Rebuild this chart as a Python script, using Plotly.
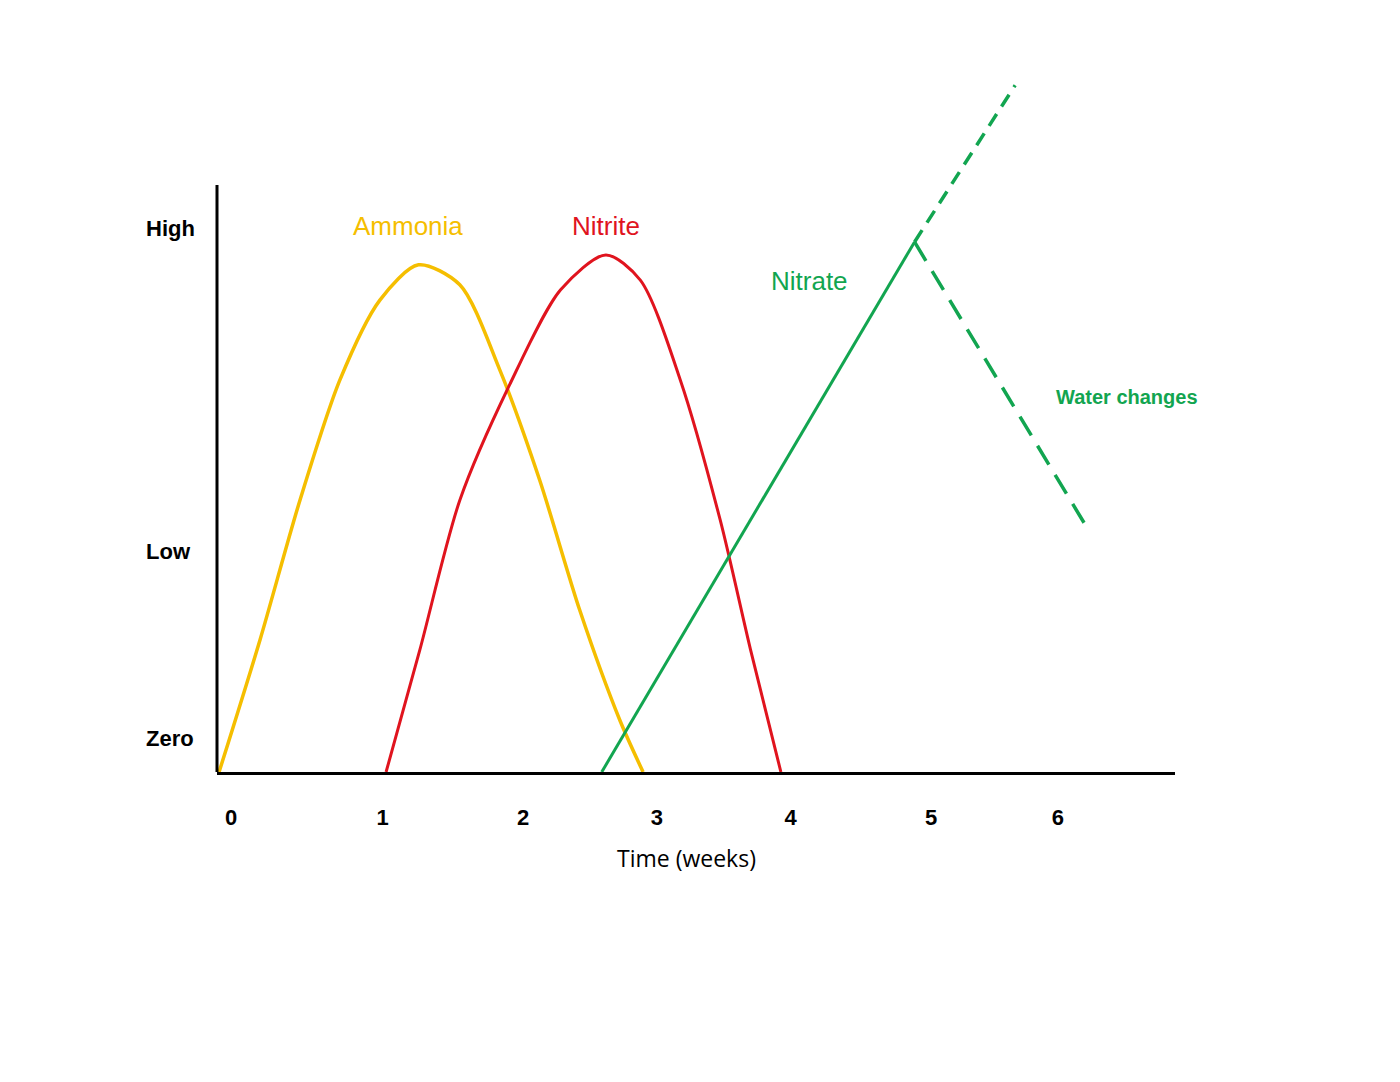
import plotly.graph_objects as go

# curves (x in weeks, y as fraction of "High")
ammonia_x = [-0.087, 0.21, 0.50, 0.79, 1.08, 1.36, 1.66, 1.95, 2.24, 2.53, 2.82, 2.99]
ammonia_y = [0, 0.225, 0.463, 0.668, 0.804, 0.864, 0.830, 0.685, 0.497, 0.276, 0.089, 0]
nitrite_x = [1.125, 1.37, 1.66, 2.02, 2.39, 2.72, 2.97, 3.26, 3.55, 3.77, 3.99]
nitrite_y = [0, 0.208, 0.463, 0.659, 0.821, 0.881, 0.838, 0.668, 0.429, 0.208, 0]
nitrate_x = [2.69, 4.96]
nitrate_y = [0, 0.903]
rise_x = [4.96, 5.69]
rise_y = [0.903, 1.170]
change_x = [4.96, 6.23]
change_y = [0.903, 0.409]

tick_pos = [0, 1.10, 2.12, 3.09, 4.06, 5.08, 6.0]
tick_text = ["0", "1", "2", "3", "4", "5", "6"]
level_names = ["High", "Low", "Zero"]
level_pos = [0.951, 0.351, 0.032]

ymax = 1.213
yellow, red, green = "#F5BE00", "#E0141E", "#12A550"

fig = go.Figure()
fig.add_trace(go.Scatter(x=ammonia_x, y=ammonia_y, mode="lines",
                         line=dict(color=yellow, width=3.5, shape="spline", smoothing=0.8)))
fig.add_trace(go.Scatter(x=nitrite_x, y=nitrite_y, mode="lines",
                         line=dict(color=red, width=3, shape="spline", smoothing=0.8)))
fig.add_trace(go.Scatter(x=nitrate_x, y=nitrate_y, mode="lines",
                         line=dict(color=green, width=3)))
fig.add_trace(go.Scatter(x=rise_x, y=rise_y, mode="lines",
                         line=dict(color=green, width=3.5, dash="14px,9px")))
fig.add_trace(go.Scatter(x=change_x, y=change_y, mode="lines",
                         line=dict(color=green, width=3.5, dash="22px,12px")))

bold = dict(family="Liberation Sans", size=22, color="black", weight="bold")
annos = [
    dict(x=1.285, y=0.930, text="Ammonia", font=dict(family="Liberation Sans", size=26, color=yellow)),
    dict(x=2.72, y=0.930, text="Nitrite", font=dict(family="Liberation Sans", size=26, color=red)),
    dict(x=4.20, y=0.836, text="Nitrate", font=dict(family="Liberation Sans", size=26, color=green)),
    dict(x=6.50, y=0.639, text="Water changes",
         font=dict(family="Liberation Sans", size=20, color=green, weight="bold")),
]
for a in annos:
    a.update(xref="x", yref="y", showarrow=False)
annos.append(dict(x=0.49, y=-0.177 / ymax, xref="paper", yref="paper", showarrow=False,
                  text="Time (weeks)", font=dict(family="Open Sans", size=23, color="black")))
for name, pos in zip(level_names, level_pos):
    annos.append(dict(x=-0.076, y=pos / ymax, xref="paper", yref="paper",
                      showarrow=False, text=name, font=bold))

fig.update_layout(
    width=1400, height=1082, showlegend=False,
    plot_bgcolor="white", paper_bgcolor="white",
    margin=dict(l=209, r=233, t=52, b=318),
    annotations=annos,
    shapes=[dict(type="line", xref="paper", yref="y", x0=0, x1=0, y0=0, y1=1,
                 line=dict(color="black", width=3))],
    xaxis=dict(range=[-0.102, 6.85], showgrid=False, zeroline=False,
               showline=True, linecolor="black", linewidth=3,
               tickvals=tick_pos, ticktext=tick_text, ticks="outside",
               ticklen=24, tickcolor="white", tickfont=bold),
    yaxis=dict(range=[0, ymax], showgrid=False, zeroline=False,
               showticklabels=False, showline=False),
)

fig.write_html("out.html")
